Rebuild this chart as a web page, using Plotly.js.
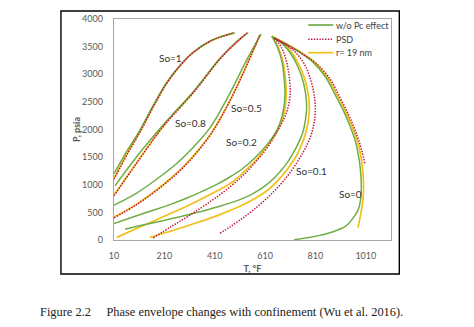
<!DOCTYPE html>
<html><head><meta charset="utf-8">
<script src="https://cdn.plot.ly/plotly-3.0.1.min.js"></script>
<style>html,body{margin:0;padding:0;background:#fff;}#chart{width:474px;height:327px;}</style>
</head><body><div id="chart"></div>
<script>
// ---- axis ticks ----
const xTickVals = [10, 210, 410, 610, 810, 1010];
const yTickVals = [0, 500, 1000, 1500, 2000, 2500, 3000, 3500, 4000];

// ---- series names ----
const seriesNames = ['w/o Pc effect', 'PSD', 'r= 19 nm'];

// ---- So = 1 ----
const so1_T_green = [10, 60, 113, 165, 219, 270, 325, 400, 490];
const so1_P_green = [1200, 1600, 1990, 2430, 2850, 3150, 3400, 3620, 3752];
const so1_T_psd = [10, 60, 113, 165, 219, 270, 325, 400, 486];
const so1_P_psd = [1100, 1530, 1950, 2400, 2830, 3140, 3395, 3615, 3748];
const so1_T_r19 = [10, 60, 113, 165, 219, 270, 325, 400, 486];
const so1_P_r19 = [1120, 1545, 1960, 2405, 2835, 3142, 3396, 3617, 3750];

// ---- So = 0.8 ----
const so08_T_green = [14, 100, 205, 325, 431, 500, 543];
const so08_P_green = [983, 1508, 2081, 2684, 3288, 3600, 3752];
const so08_T_psd = [10, 100, 205, 325, 431, 500, 538];
const so08_P_psd = [800, 1390, 2050, 2665, 3275, 3592, 3745];
const so08_T_r19 = [10, 100, 205, 325, 431, 500, 540];
const so08_P_r19 = [814, 1400, 2060, 2670, 3280, 3595, 3748];

// ---- So = 0.5 ----
const so05_T_green = [10, 100, 175, 260, 325, 391, 440, 490, 537, 594];
const so05_P_green = [630, 850, 1086, 1390, 1680, 2030, 2400, 2830, 3260, 3728];
const so05_T_psd = [10, 100, 205, 280, 340, 400, 450, 500, 545, 590];
const so05_P_psd = [400, 640, 990, 1290, 1590, 1950, 2340, 2790, 3240, 3720];
const so05_T_r19 = [10, 100, 205, 280, 340, 400, 450, 500, 545, 592];
const so05_P_r19 = [415, 650, 1000, 1300, 1600, 1960, 2350, 2800, 3250, 3725];

// ---- So = 0.2 ----
const so02_T_green = [10, 100, 232, 300, 360, 420, 470, 520, 570, 620, 655, 675, 686, 689, 686, 677, 660, 637];
const so02_P_green = [300, 440, 640, 760, 880, 1010, 1140, 1290, 1490, 1740, 1970, 2200, 2450, 2650, 2900, 3230, 3480, 3686];
const so02_T_psd = [166, 240, 312, 400, 470, 520, 570, 620, 662, 690, 706, 710, 706, 695, 675, 648];
const so02_P_psd = [40, 250, 452, 720, 960, 1160, 1400, 1680, 2000, 2250, 2500, 2700, 2950, 3230, 3480, 3650];
const so02_T_r19 = [21, 130, 230, 330, 420, 480, 530, 580, 625, 660, 680, 691, 694, 691, 681, 663, 637];
const so02_P_r19 = [48, 270, 470, 680, 890, 1050, 1250, 1480, 1740, 1980, 2200, 2450, 2650, 2900, 3230, 3480, 3686];

// ---- So = 0.1 ----
const so01_T_green = [54, 130, 200, 272, 350, 430, 510, 562, 610, 650, 690, 720, 745, 762, 771, 775, 771, 756, 730, 690, 637];
const so01_P_green = [193, 275, 345, 420, 510, 610, 730, 840, 980, 1140, 1350, 1560, 1780, 1980, 2200, 2400, 2650, 2950, 3234, 3500, 3686];
const so01_T_psd = [431, 470, 510, 560, 616, 670, 720, 760, 788, 803, 809, 807, 794, 770, 730, 680, 645];
const so01_P_psd = [121, 235, 360, 530, 750, 1000, 1290, 1580, 1840, 2081, 2300, 2550, 2850, 3150, 3400, 3570, 3650];
const so01_T_r19 = [153, 250, 350, 430, 510, 570, 620, 660, 700, 735, 760, 775, 783, 786, 781, 765, 738, 696, 637];
const so01_P_r19 = [48, 180, 330, 460, 610, 750, 900, 1070, 1290, 1530, 1780, 2000, 2200, 2400, 2650, 2950, 3234, 3500, 3686];

// ---- So = 0 ----
const so0_T_green = [637, 700, 750, 796, 850, 888, 925, 950, 968, 980, 988, 992, 990, 980, 960, 930, 880, 814, 725];
const so0_P_green = [3686, 3530, 3390, 3234, 2950, 2630, 2300, 2030, 1800, 1550, 1300, 1000, 750, 550, 400, 250, 150, 70, 5];
const so0_T_psd = [648, 712, 765, 812, 867, 905, 940, 962, 980, 995, 1006];
const so0_P_psd = [3650, 3490, 3350, 3200, 2920, 2600, 2280, 2050, 1830, 1600, 1388];
const so0_T_r19 = [637, 703, 755, 802, 857, 895, 932, 958, 976, 989, 997, 1001, 999, 991, 979];
const so0_P_r19 = [3686, 3530, 3390, 3234, 2950, 2630, 2300, 2030, 1800, 1550, 1300, 1000, 750, 500, 225];

// ---- curve labels ----
const labelText = ['So=1', 'So=0.8', 'So=0.5', 'So=0.2', 'So=0.1', 'So=0'];
const labelT = [234, 314, 536, 517, 796, 949];
const labelP = [3300, 2112, 2395, 1779, 1249, 833];

const GREEN = '#70AD47', YELLOW = '#F2BF1B', RED = '#C0143C';

function curve(name, T, P, color, dash, w) {
  return {type: 'scatter', mode: 'lines', name: name, x: T, y: P,
    line: {color: color, width: w, dash: dash, shape: 'spline', smoothing: 1},
    showlegend: false, hoverinfo: 'skip'};
}

const traces = [];
// r = 19 nm (drawn first)
[[so1_T_r19, so1_P_r19], [so08_T_r19, so08_P_r19], [so05_T_r19, so05_P_r19],
 [so02_T_r19, so02_P_r19], [so01_T_r19, so01_P_r19], [so0_T_r19, so0_P_r19]]
  .forEach(d => traces.push(curve(seriesNames[2], d[0], d[1], YELLOW, 'solid', 1.7)));
// w/o Pc effect
[[so1_T_green, so1_P_green], [so08_T_green, so08_P_green], [so05_T_green, so05_P_green],
 [so02_T_green, so02_P_green], [so01_T_green, so01_P_green], [so0_T_green, so0_P_green]]
  .forEach(d => traces.push(curve(seriesNames[0], d[0], d[1], GREEN, 'solid', 1.5)));
// PSD
[[so1_T_psd, so1_P_psd], [so08_T_psd, so08_P_psd], [so05_T_psd, so05_P_psd],
 [so02_T_psd, so02_P_psd], [so01_T_psd, so01_P_psd], [so0_T_psd, so0_P_psd]]
  .forEach(d => traces.push(curve(seriesNames[1], d[0], d[1], RED, '1.4px,1.4px', 1.5)));

// ---- layout geometry (pixels -> paper) ----
const PL = 114, PR = 390.7, PT = 19, PB = 240;
const px = x => (x - PL) / (PR - PL);
const py = y => (PB - y) / (PB - PT);

const shapes = [
  {type: 'rect', xref: 'paper', yref: 'paper', x0: px(61), x1: px(399), y0: py(274), y1: py(11),
   line: {color: '#000', width: 1.4}, fillcolor: 'rgba(0,0,0,0)'}
];
const annotations = [];
// legend (drawn manually to match row spacing)
const legColors = [GREEN, RED, YELLOW];
const legRows = [25, 39.3, 52.7];
seriesNames.forEach((n, i) => {
  shapes.push({type: 'line', xref: 'paper', yref: 'paper', x0: px(308), x1: px(333), y0: py(legRows[i]), y1: py(legRows[i]),
    line: {color: legColors[i], width: i === 1 ? 1.5 : 1.7, dash: i === 1 ? '1.4px,1.4px' : 'solid'}});
  annotations.push({xref: 'paper', yref: 'paper', x: px(334), y: py(legRows[i]), xanchor: 'left', yanchor: 'middle',
    text: n, showarrow: false, font: {family: 'Lato', size: 9, color: '#404040'}});
});
labelText.forEach((t, i) => annotations.push({x: labelT[i], y: labelP[i], text: t, showarrow: false,
  xanchor: 'center', yanchor: 'middle', font: {family: 'Lato', size: 10, color: '#303030'}}));
annotations.push({xref: 'paper', yref: 'paper', x: px(221), y: py(312), xanchor: 'center', yanchor: 'middle',
  text: 'Figure 2.2\u00a0\u00a0\u00a0\u00a0\u00a0Phase envelope changes with confinement (Wu et al. 2016).', showarrow: false,
  font: {family: 'Liberation Serif', size: 12.4, color: '#222'}});

const axisBase = {showgrid: false, zeroline: false, showline: true, mirror: true, linecolor: '#A6A6A6', linewidth: 1.2,
  ticks: '', fixedrange: true, automargin: false, tickfont: {family: 'Lato', size: 9, color: '#595959'}};

const layout = {
  width: 474, height: 327,
  margin: {l: PL, r: 474 - PR, t: PT, b: 327 - PB, pad: 0},
  paper_bgcolor: '#fff', plot_bgcolor: '#fff', showlegend: false,
  xaxis: Object.assign({}, axisBase, {range: [10, 1110], tickvals: xTickVals, ticktext: xTickVals.map(String),
    ticklabelstandoff: 7,
    title: {text: '<b>T, °F</b>', font: {family: 'Lato', size: 9, color: '#595959'}, standoff: 5}}),
  yaxis: Object.assign({}, axisBase, {range: [0, 4000], tickvals: yTickVals, ticktext: yTickVals.map(String),
    ticklabelstandoff: 8,
    title: {text: '<b>P, psia</b>', font: {family: 'Lato', size: 9, color: '#595959'}, standoff: 0}}),
  shapes: shapes, annotations: annotations
};

Plotly.newPlot('chart', traces, layout, {staticPlot: true, displayModeBar: false});
</script></body></html>
